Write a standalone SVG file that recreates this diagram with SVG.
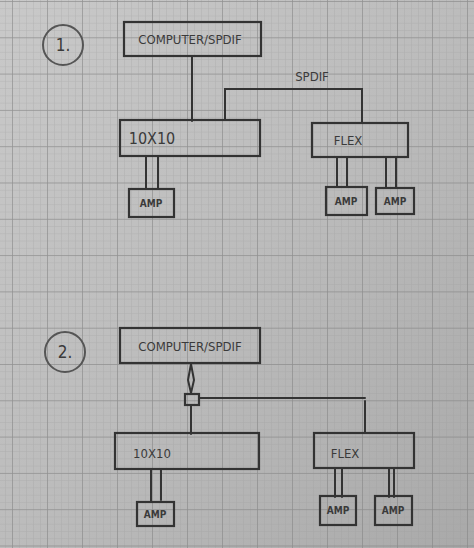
<svg xmlns="http://www.w3.org/2000/svg" width="474" height="548" viewBox="0 0 474 548">
<defs>
<linearGradient id="paper" x1="0" y1="0" x2="1" y2="1">
<stop offset="0" stop-color="#c9c9c9"/>
<stop offset="0.5" stop-color="#bcbcbc"/>
<stop offset="1" stop-color="#a9a9a9"/>
</linearGradient>
<pattern id="minor" x="5" y="1" width="7" height="7.26" patternUnits="userSpaceOnUse">
<path d="M0,0 H7 M0,0 V7.26" stroke="#9c9c9c" stroke-width="1" fill="none" opacity="0.45"/>
</pattern>
<pattern id="major" x="12" y="1" width="35" height="36.3" patternUnits="userSpaceOnUse">
<path d="M0,0 H35 M0,0 V36.3" stroke="#7e7e7e" stroke-width="1.4" fill="none" opacity="0.65"/>
</pattern>
<style>
.box{fill:none;stroke:#333;stroke-width:2.2}
.ln{fill:none;stroke:#333;stroke-width:2;stroke-linecap:round}
.t{font-family:"DejaVu Sans Condensed","DejaVu Sans",sans-serif;fill:#3a3a3a;text-anchor:middle}
.lbl{font-size:13px}
.big{font-size:16px}
.amp{font-size:10px;font-weight:bold}
.num{font-size:17px}
.circ{fill:none;stroke:#555;stroke-width:2}
</style>
</defs>
<rect width="474" height="548" fill="url(#paper)"/>
<rect width="474" height="548" fill="url(#minor)"/>
<rect width="474" height="548" fill="url(#major)"/>

<g id="connectors">
<path class="ln" d="M192,56 V121"/>
<path class="ln" d="M225,119 V89 H362 V122"/>
<path class="ln" d="M146,156 V189 M158,156 V189"/>
<path class="ln" d="M337,157 V187 M347,157 V187"/>
<path class="ln" d="M386,157 V188 M396,157 V188"/>
<path class="ln" d="M191,364 L188,380 L191,393 L194,380 Z" stroke-width="1.4"/>
<path class="ln" d="M199,398 H365"/>
<path class="ln" d="M365,401 V432"/>
<path class="ln" d="M191,405 V434"/>
<path class="ln" d="M151,469 V502 M161,469 V500"/>
<path class="ln" d="M335,468 V497 M342,468 V497"/>
<path class="ln" d="M389,468 V497 M394,468 V497"/>
</g>

<g id="label1">
<circle class="circ" cx="63" cy="45" r="20"/>
<text class="t num" x="63" y="51">1.</text>
</g>
<g id="computer1">
<rect class="box" x="124" y="22" width="137" height="34"/>
<text class="t lbl" x="190" y="44">COMPUTER/SPDIF</text>
</g>
<text id="spdif-label" class="t lbl" x="312" y="81">SPDIF</text>
<g id="tenx1">
<rect class="box" x="120" y="120" width="140" height="36"/>
<text class="t big" x="152" y="144">10X10</text>
</g>
<g id="flex1">
<rect class="box" x="312" y="123" width="96" height="34"/>
<text class="t lbl" x="348" y="145">FLEX</text>
</g>
<g id="amp1a">
<rect class="box" x="129" y="189" width="45" height="28"/>
<text class="t amp" x="151" y="207">AMP</text>
</g>
<g id="amp1b">
<rect class="box" x="326" y="187" width="41" height="28"/>
<text class="t amp" x="346" y="205">AMP</text>
</g>
<g id="amp1c">
<rect class="box" x="376" y="188" width="38" height="26"/>
<text class="t amp" x="395" y="205">AMP</text>
</g>

<g id="label2">
<circle class="circ" cx="65" cy="352" r="20"/>
<text class="t num" x="65" y="358">2.</text>
</g>
<g id="computer2">
<rect class="box" x="120" y="328" width="140" height="35"/>
<text class="t lbl" x="190" y="351">COMPUTER/SPDIF</text>
</g>
<g id="junction2">
<rect class="box" x="185" y="394" width="14" height="11"/>
</g>
<g id="tenx2">
<rect class="box" x="115" y="433" width="144" height="36"/>
<text class="t lbl" x="152" y="458">10X10</text>
</g>
<g id="flex2">
<rect class="box" x="314" y="433" width="100" height="35"/>
<text class="t lbl" x="345" y="458">FLEX</text>
</g>
<g id="amp2a">
<rect class="box" x="137" y="502" width="37" height="24"/>
<text class="t amp" x="155" y="518">AMP</text>
</g>
<g id="amp2b">
<rect class="box" x="320" y="496" width="36" height="29"/>
<text class="t amp" x="338" y="514">AMP</text>
</g>
<g id="amp2c">
<rect class="box" x="375" y="496" width="37" height="29"/>
<text class="t amp" x="393" y="514">AMP</text>
</g>
</svg>
